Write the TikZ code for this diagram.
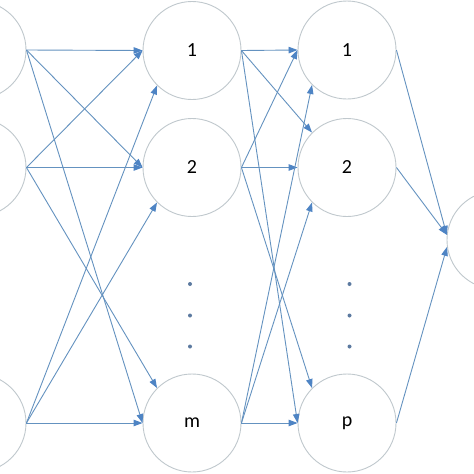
\documentclass[tikz,border=0pt]{standalone}
\usepackage{fontspec}
\setmainfont{Carlito}
\usetikzlibrary{arrows.meta}
\definecolor{edgeblue}{RGB}{100,146,192}
\definecolor{tipblue}{RGB}{78,132,196}
\definecolor{ringgray}{RGB}{192,200,205}
\definecolor{dotblue}{RGB}{92,122,160}
\begin{document}
\begin{tikzpicture}[x=1pt,y=-1pt,
  neuron/.style={circle,draw=ringgray,line width=0.9pt,minimum size=98pt,inner sep=0pt,
    font=\fontsize{20}{24}\selectfont},
  conn/.style={draw=edgeblue,line width=0.9pt,
    -{Triangle[length=9pt,width=6.5pt,fill=tipblue,color=tipblue]}},
  dotmark/.style={circle,fill=dotblue,inner sep=0pt,minimum size=4pt}]
\useasboundingbox (0,0) rectangle (474,474);
\fill[white] (0,0) rectangle (474,474);
% input layer
\node[neuron] (in1) at (-23,50) {};
\node[neuron] (in2) at (-23,167.5) {};
\node[neuron] (in3) at (-23,423) {};
% hidden layer 1
\node[neuron] (h1) at (192,50.5) {1};
\node[neuron] (h2) at (192,167.5) {\raisebox{-6pt}{2}};
\node[neuron] (hm) at (192,423) {m};
% hidden layer 2
\node[neuron] (k1) at (347,50) {1};
\node[neuron] (k2) at (347,167.5) {2};
\node[neuron] (kp) at (347,423) {p};
% output
\node[neuron] (out) at (496,240) {};
% dots
\node[dotmark] (da1) at (190,284) {};
\node[dotmark] (da2) at (190,315.5) {};
\node[dotmark] (da3) at (190,346.5) {};
\node[dotmark] (db1) at (349.5,284) {};
\node[dotmark] (db2) at (349.5,315.5) {};
\node[dotmark] (db3) at (349.5,346.5) {};
% layer 1 -> 2
\draw[conn] (in1.east) -- (h1.west);
\draw[conn] (in1.east) -- (h2.west);
\draw[conn] (in1.east) -- (hm.west);
\draw[conn] (in2.east) -- (h1.west);
\draw[conn] (in2.east) -- (h2.west);
\draw[conn] (in2.east) -- (hm.135);
\draw[conn] (in3.east) -- (h1.225);
\draw[conn] (in3.east) -- (h2.225);
\draw[conn] (in3.east) -- (hm.west);
% layer 2 -> 3
\draw[conn] (h1.east) -- (k1.west);
\draw[conn] (h1.east) -- (k2.135);
\draw[conn] (h1.east) -- (kp.west);
\draw[conn] (h2.east) -- (k1.west);
\draw[conn] (h2.east) -- (k2.west);
\draw[conn] (h2.east) -- (kp.135);
\draw[conn] (hm.east) -- (k1.225);
\draw[conn] (hm.east) -- (k2.225);
\draw[conn] (hm.east) -- (kp.west);
% layer 3 -> output
\draw[conn] (k1.east) -- (out.174);
\draw[conn] (k2.east) -- (out.174);
\draw[conn] (kp.east) -- (out.188);
\end{tikzpicture}
\end{document}
